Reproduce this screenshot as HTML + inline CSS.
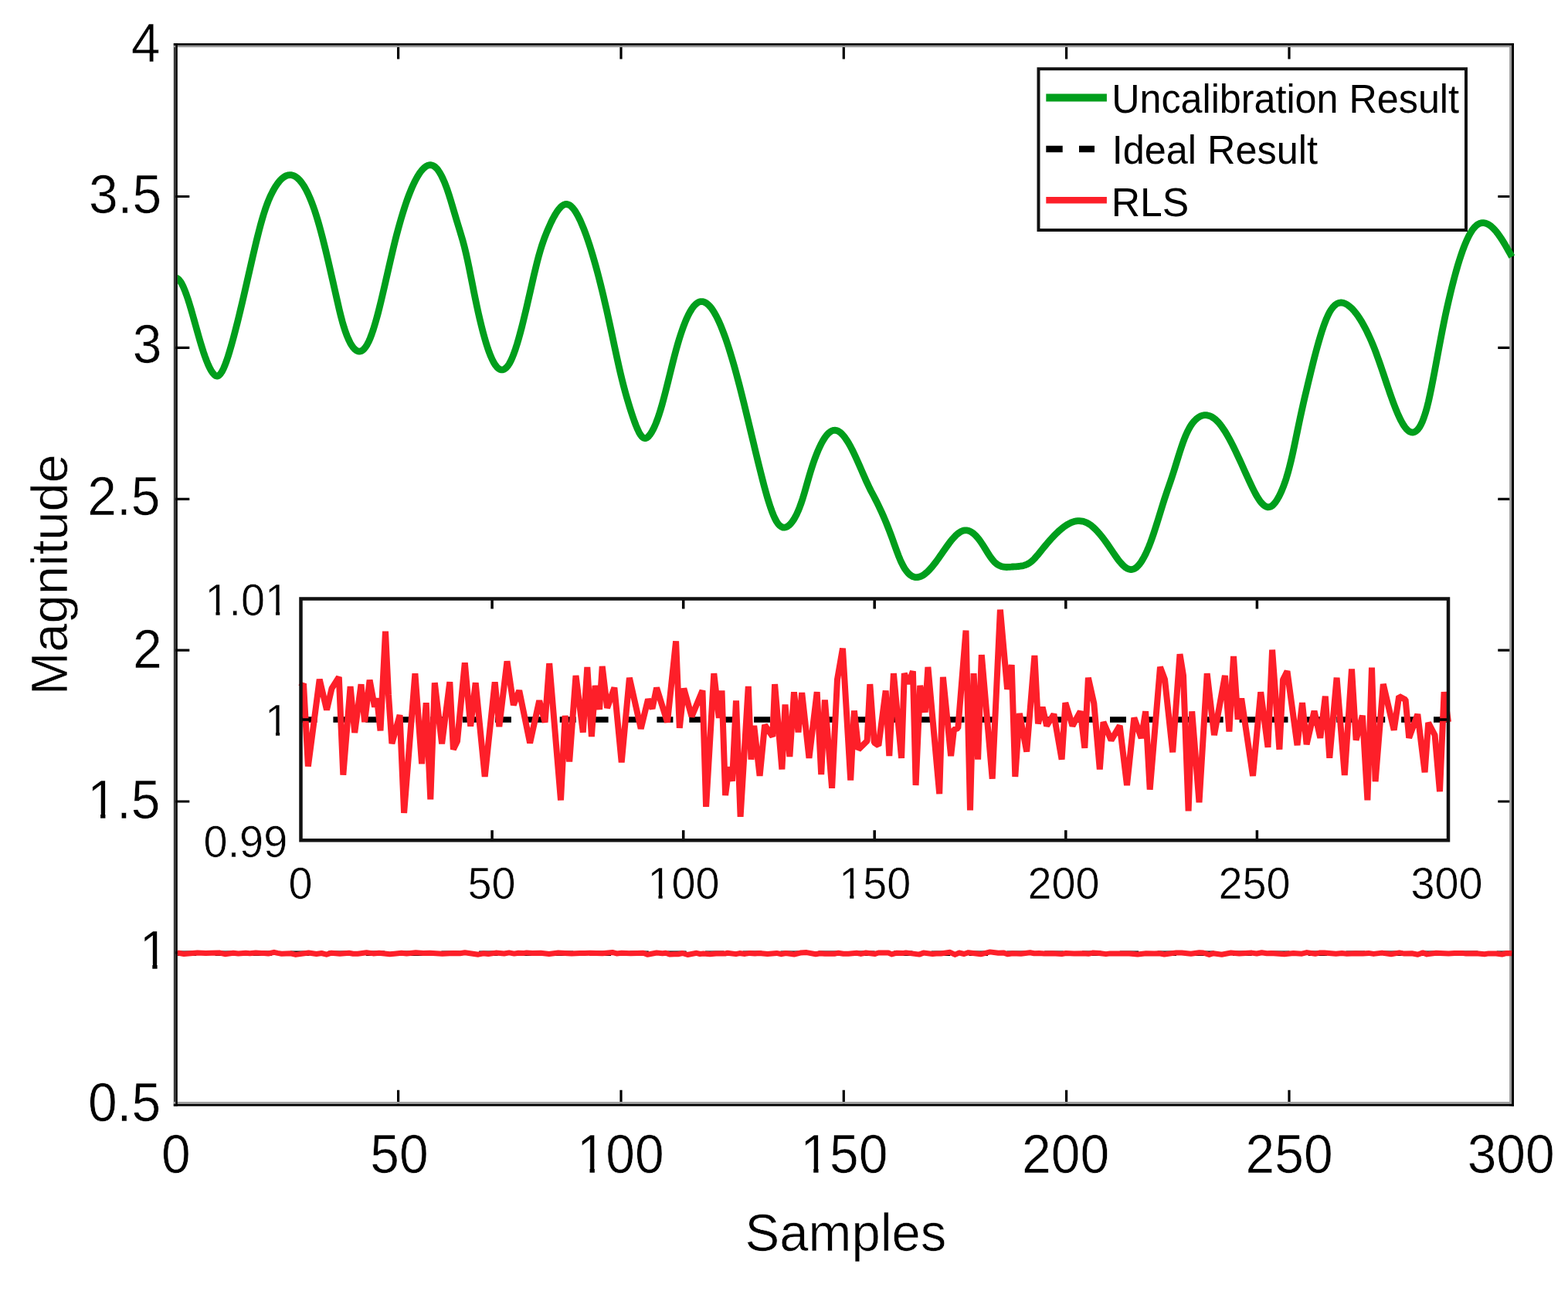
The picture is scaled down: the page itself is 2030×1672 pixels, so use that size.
<!DOCTYPE html>
<html><head><meta charset="utf-8"><title>Magnitude vs Samples</title>
<style>html,body{margin:0;padding:0;background:#fff;width:2030px;height:1672px;overflow:hidden}svg{display:block}</style>
</head><body><svg width="2030" height="1672" viewBox="0 0 2030 1672"><rect x="0" y="0" width="2030" height="1672" fill="#ffffff"/><path d="M515.6 1429.8V1411.8M515.6 58.6V76.6M804.0 1429.8V1411.8M804.0 58.6V76.6M1092.3 1429.8V1411.8M1092.3 58.6V76.6M1380.6 1429.8V1411.8M1380.6 58.6V76.6M1669.0 1429.8V1411.8M1669.0 58.6V76.6M227.3 1233.9H245.3M1957.3 1233.9H1939.3M227.3 1038.0H245.3M1957.3 1038.0H1939.3M227.3 842.1H245.3M1957.3 842.1H1939.3M227.3 646.3H245.3M1957.3 646.3H1939.3M227.3 450.4H245.3M1957.3 450.4H1939.3M227.3 254.5H245.3M1957.3 254.5H1939.3" stroke="#000" stroke-width="3.2" fill="none"/><rect x="224.8" y="56.1" width="2.5" height="1376.5" fill="#383838"/><rect x="224.8" y="58.7" width="1735.2" height="2.5" fill="#9a9a9a"/><rect x="1954.2" y="56.1" width="2.9" height="1376.5" fill="#9a9a9a"/><rect x="224.8" y="1426.9" width="1735.2" height="2.9" fill="#a0a0a0"/><rect x="227.3" y="56.1" width="2.5" height="1376.5" fill="#000"/><rect x="224.8" y="56.1" width="1735.2" height="2.6" fill="#000"/><rect x="1957.1" y="56.1" width="2.9" height="1376.5" fill="#000"/><rect x="224.8" y="1429.8" width="1735.2" height="2.8" fill="#000"/><line x1="229.8" y1="1234.8" x2="1957.3" y2="1234.8" stroke="#000" stroke-width="6.4" stroke-dasharray="24.4 24.4"/><polyline points="229.8,1234.2 231.4,1234.2 238.2,1235.6 255.5,1234.1 266.3,1234.6 273.9,1234.2 284.7,1234.1 291.1,1235.7 302.0,1234.3 308.5,1235.0 318.1,1234.2 323.5,1234.8 331.1,1234.1 338.5,1234.5 342.0,1234.5 347.3,1235.0 354.8,1233.3 359.5,1234.4 364.6,1235.2 376.5,1234.8 382.9,1236.4 399.5,1234.0 409.7,1235.5 416.2,1234.5 422.7,1236.2 429.1,1234.2 440.0,1235.2 451.8,1234.2 457.2,1235.3 463.1,1235.2 474.5,1233.8 483.2,1234.9 490.7,1234.2 504.7,1235.8 519.8,1234.2 526.4,1234.9 538.2,1233.8 547.9,1234.5 556.5,1234.3 572.7,1235.2 586.8,1234.5 595.4,1234.8 601.9,1233.8 619.2,1236.2 625.7,1234.8 632.2,1235.5 641.9,1234.1 652.7,1235.0 659.1,1233.9 665.7,1235.1 671.0,1234.2 677.5,1234.6 681.7,1233.9 689.2,1234.5 700.0,1234.3 710.8,1235.5 722.7,1234.1 740.0,1234.9 750.8,1234.5 757.2,1234.6 763.7,1234.3 779.9,1234.8 792.8,1233.4 798.3,1234.9 804.7,1234.3 816.6,1234.7 832.9,1234.3 838.2,1236.3 850.1,1234.0 857.7,1234.7 862.0,1234.3 867.4,1236.1 872.8,1235.7 877.7,1235.8 883.5,1234.5 890.1,1236.5 901.9,1234.3 906.3,1235.5 910.6,1235.0 919.2,1235.8 926.8,1234.9 938.6,1235.1 941.9,1234.2 952.7,1235.6 957.5,1234.6 964.4,1235.4 970.9,1234.4 977.3,1235.0 982.8,1234.4 993.6,1235.4 1005.5,1234.4 1011.9,1235.7 1017.4,1234.5 1028.1,1236.0 1036.1,1234.1 1044.3,1233.6 1056.1,1235.8 1061.6,1234.7 1068.0,1235.3 1081.1,1235.2 1085.4,1234.2 1091.8,1235.2 1098.3,1235.2 1109.1,1234.3 1114.5,1235.4 1121.0,1234.0 1132.9,1235.4 1137.2,1234.0 1143.6,1234.1 1150.1,1234.0 1154.4,1235.9 1161.0,1234.2 1168.5,1234.6 1172.8,1233.9 1190.1,1236.1 1195.5,1234.1 1207.4,1235.4 1212.0,1235.0 1218.1,1235.0 1230.0,1233.3 1236.4,1236.4 1241.8,1234.0 1248.2,1235.5 1253.7,1233.7 1269.8,1235.8 1281.7,1232.9 1292.4,1234.2 1299.0,1233.9 1304.3,1235.8 1310.8,1234.7 1321.7,1235.3 1333.5,1233.7 1338.9,1234.8 1345.4,1234.6 1351.8,1234.9 1362.7,1234.8 1374.5,1235.5 1380.0,1234.5 1390.7,1234.9 1402.6,1234.7 1409.1,1235.3 1414.5,1234.1 1423.1,1234.5 1431.8,1235.6 1437.2,1234.9 1449.1,1235.1 1462.0,1235.0 1472.8,1235.9 1483.7,1234.8 1494.5,1235.1 1500.9,1234.7 1507.4,1236.0 1522.9,1233.9 1529.9,1234.1 1541.8,1235.3 1552.6,1233.7 1557.8,1234.0 1565.5,1236.4 1570.9,1234.7 1581.7,1236.2 1593.6,1234.0 1604.4,1235.0 1620.6,1234.1 1627.0,1235.0 1633.5,1233.7 1640.1,1234.7 1645.4,1234.5 1662.7,1235.8 1674.5,1234.4 1685.4,1235.2 1691.9,1233.6 1702.7,1235.3 1708.1,1234.1 1714.5,1234.0 1729.6,1235.2 1737.2,1234.5 1743.7,1235.2 1755.2,1234.7 1764.3,1235.1 1771.9,1234.4 1778.3,1235.4 1789.1,1234.1 1801.0,1235.7 1811.7,1233.9 1818.2,1235.1 1827.9,1234.8 1835.5,1236.2 1842.0,1233.9 1847.4,1235.9 1859.2,1234.2 1875.4,1234.9 1883.0,1234.4 1892.8,1234.4 1898.1,1235.1 1911.1,1234.8 1921.9,1235.7 1927.3,1234.9 1937.0,1235.1 1944.5,1236.0 1951.0,1234.4 1957.3,1234.8" fill="none" stroke="#fd1f29" stroke-width="7" stroke-linejoin="round"/><clipPath id="pc"><rect x="229.8" y="40" width="1740" height="1400"/></clipPath><polyline clip-path="url(#pc)" points="227.3,360.1 229.3,360.4 231.3,361.8 233.3,364.2 235.3,367.4 237.3,371.5 239.3,376.2 241.3,381.6 243.3,387.4 245.3,393.8 247.3,400.4 249.3,407.4 251.3,414.5 253.3,421.6 255.3,428.8 257.3,435.9 259.3,442.8 261.3,449.4 263.3,455.7 265.3,461.5 267.3,466.9 269.3,471.8 271.3,476.1 273.3,479.8 275.3,482.9 277.3,485.2 279.3,486.7 281.3,487.1 283.3,486.3 285.3,484.4 287.3,481.4 289.3,477.5 291.3,472.8 293.3,467.4 295.3,461.4 297.3,454.9 299.3,448.0 301.3,440.9 303.3,433.4 305.3,425.7 307.3,417.8 309.3,409.7 311.3,401.4 313.3,392.9 315.3,384.4 317.3,375.7 319.3,367.0 321.3,358.2 323.3,349.5 325.3,340.7 327.3,332.0 329.3,323.5 331.3,315.1 333.3,306.9 335.3,299.0 337.3,291.4 339.3,284.3 341.3,277.5 343.3,271.3 345.3,265.6 347.3,260.4 349.3,255.7 351.3,251.4 353.3,247.5 355.3,243.9 357.3,240.7 359.3,237.8 361.3,235.2 363.3,232.9 365.3,231.0 367.3,229.5 369.3,228.2 371.3,227.4 373.3,226.8 375.3,226.6 377.3,226.7 379.3,227.2 381.3,228.1 383.3,229.3 385.3,230.8 387.3,232.7 389.3,235.0 391.3,237.6 393.3,240.6 395.3,244.0 397.3,247.8 399.3,251.9 401.3,256.5 403.3,261.4 405.3,266.7 407.3,272.4 409.3,278.6 411.3,285.1 413.3,292.0 415.3,299.3 417.3,306.9 419.3,314.8 421.3,322.9 423.3,331.2 425.3,339.8 427.3,348.4 429.3,357.2 431.3,366.0 433.3,374.9 435.3,383.8 437.3,392.6 439.3,401.2 441.3,409.4 443.3,416.9 445.3,423.7 447.3,429.8 449.3,435.1 451.3,439.8 453.3,443.9 455.3,447.3 457.3,450.1 459.3,452.3 461.3,453.9 463.3,454.8 465.3,455.1 467.3,454.7 469.3,453.7 471.3,451.9 473.3,449.5 475.3,446.3 477.3,442.5 479.3,437.9 481.3,432.6 483.3,426.8 485.3,420.3 487.3,413.4 489.3,406.0 491.3,398.2 493.3,390.0 495.3,381.6 497.3,373.0 499.3,364.3 501.3,355.5 503.3,346.7 505.3,338.0 507.3,329.4 509.3,320.9 511.3,312.8 513.3,304.9 515.3,297.4 517.3,290.1 519.3,283.1 521.3,276.4 523.3,270.1 525.3,264.0 527.3,258.3 529.3,252.9 531.3,247.8 533.3,243.0 535.3,238.6 537.3,234.5 539.3,230.7 541.3,227.3 543.3,224.2 545.3,221.5 547.3,219.1 549.3,217.2 551.3,215.6 553.3,214.5 555.3,213.9 557.3,213.7 559.3,214.0 561.3,214.8 563.3,216.2 565.3,218.1 567.3,220.6 569.3,223.6 571.3,227.1 573.3,231.2 575.3,235.7 577.3,240.8 579.3,246.3 581.3,252.4 583.3,258.8 585.3,265.5 587.3,272.3 589.3,279.1 591.3,285.8 593.3,292.2 595.3,298.7 597.3,305.4 599.3,312.3 601.3,319.9 603.3,328.1 605.3,337.1 607.3,346.7 609.3,356.6 611.3,366.7 613.3,376.8 615.3,386.7 617.3,396.2 619.3,405.4 621.3,414.1 623.3,422.3 625.3,430.1 627.3,437.4 629.3,444.2 631.3,450.5 633.3,456.2 635.3,461.3 637.3,465.8 639.3,469.6 641.3,472.8 643.3,475.4 645.3,477.2 647.3,478.4 649.3,478.9 651.3,478.8 653.3,477.9 655.3,476.3 657.3,474.1 659.3,471.1 661.3,467.4 663.3,463.0 665.3,457.9 667.3,452.2 669.3,446.0 671.3,439.2 673.3,432.0 675.3,424.5 677.3,416.5 679.3,408.3 681.3,399.9 683.3,391.3 685.3,382.5 687.3,373.7 689.3,364.9 691.3,356.3 693.3,347.9 695.3,339.8 697.3,332.2 699.3,325.1 701.3,318.5 703.3,312.6 705.3,307.1 707.3,302.0 709.3,297.2 711.3,292.7 713.3,288.3 715.3,284.2 717.3,280.5 719.3,277.0 721.3,273.8 723.3,271.1 725.3,268.8 727.3,266.9 729.3,265.6 731.3,264.7 733.3,264.4 735.3,264.8 737.3,265.6 739.3,267.1 741.3,269.1 743.3,271.5 745.3,274.5 747.3,277.9 749.3,281.7 751.3,285.8 753.3,290.4 755.3,295.2 757.3,300.4 759.3,305.8 761.3,311.6 763.3,317.6 765.3,324.0 767.3,330.6 769.3,337.4 771.3,344.5 773.3,351.9 775.3,359.5 777.3,367.4 779.3,375.5 781.3,383.8 783.3,392.4 785.3,401.1 787.3,410.1 789.3,419.2 791.3,428.5 793.3,437.9 795.3,447.3 797.3,456.6 799.3,465.8 801.3,474.8 803.3,483.5 805.3,491.8 807.3,499.7 809.3,507.2 811.3,514.3 813.3,521.1 815.3,527.6 817.3,533.9 819.3,539.9 821.3,545.6 823.3,550.9 825.3,555.7 827.3,559.9 829.3,563.3 831.3,565.8 833.3,567.3 835.3,567.7 837.3,567.1 839.3,565.5 841.3,563.2 843.3,560.3 845.3,556.7 847.3,552.6 849.3,547.9 851.3,542.6 853.3,536.8 855.3,530.4 857.3,523.5 859.3,516.2 861.3,508.5 863.3,500.6 865.3,492.6 867.3,484.5 869.3,476.4 871.3,468.4 873.3,460.7 875.3,453.2 877.3,446.0 879.3,439.3 881.3,433.0 883.3,427.1 885.3,421.6 887.3,416.5 889.3,411.8 891.3,407.6 893.3,403.9 895.3,400.6 897.3,397.7 899.3,395.4 901.3,393.5 903.3,392.0 905.3,391.1 907.3,390.6 909.3,390.6 911.3,391.1 913.3,391.9 915.3,393.2 917.3,395.0 919.3,397.1 921.3,399.6 923.3,402.5 925.3,405.8 927.3,409.4 929.3,413.4 931.3,417.7 933.3,422.3 935.3,427.3 937.3,432.6 939.3,438.1 941.3,443.9 943.3,450.0 945.3,456.4 947.3,463.0 949.3,469.8 951.3,476.8 953.3,484.1 955.3,491.6 957.3,499.2 959.3,507.0 961.3,515.0 963.3,523.0 965.3,531.2 967.3,539.5 969.3,547.8 971.3,556.1 973.3,564.5 975.3,572.8 977.3,581.2 979.3,589.5 981.3,597.7 983.3,605.8 985.3,613.8 987.3,621.7 989.3,629.3 991.3,636.7 993.3,643.7 995.3,650.3 997.3,656.5 999.3,662.1 1001.3,667.2 1003.3,671.6 1005.3,675.4 1007.3,678.4 1009.3,680.6 1011.3,682.1 1013.3,683.0 1015.3,683.2 1017.3,682.8 1019.3,681.9 1021.3,680.5 1023.3,678.6 1025.3,676.2 1027.3,673.4 1029.3,670.0 1031.3,666.2 1033.3,661.8 1035.3,656.8 1037.3,651.4 1039.3,645.3 1041.3,638.7 1043.3,631.8 1045.3,624.7 1047.3,617.7 1049.3,611.0 1051.3,604.7 1053.3,598.7 1055.3,593.1 1057.3,587.9 1059.3,583.0 1061.3,578.6 1063.3,574.5 1065.3,570.8 1067.3,567.6 1069.3,564.8 1071.3,562.4 1073.3,560.4 1075.3,558.9 1077.3,557.9 1079.3,557.3 1081.3,557.2 1083.3,557.6 1085.3,558.4 1087.3,559.7 1089.3,561.4 1091.3,563.5 1093.3,565.9 1095.3,568.7 1097.3,571.7 1099.3,575.1 1101.3,578.7 1103.3,582.5 1105.3,586.6 1107.3,590.8 1109.3,595.2 1111.3,599.7 1113.3,604.2 1115.3,608.9 1117.3,613.5 1119.3,618.1 1121.3,622.6 1123.3,626.9 1125.3,631.1 1127.3,635.2 1129.3,639.0 1131.3,642.8 1133.3,646.6 1135.3,650.5 1137.3,654.6 1139.3,658.8 1141.3,663.1 1143.3,667.6 1145.3,672.2 1147.3,677.0 1149.3,682.0 1151.3,687.1 1153.3,692.4 1155.3,697.8 1157.3,703.4 1159.3,709.0 1161.3,714.5 1163.3,719.8 1165.3,724.7 1167.3,729.1 1169.3,733.0 1171.3,736.4 1173.3,739.3 1175.3,741.8 1177.3,743.7 1179.3,745.3 1181.3,746.5 1183.3,747.2 1185.3,747.6 1187.3,747.7 1189.3,747.4 1191.3,746.8 1193.3,745.9 1195.3,744.8 1197.3,743.4 1199.3,741.7 1201.3,739.9 1203.3,737.9 1205.3,735.6 1207.3,733.3 1209.3,730.8 1211.3,728.2 1213.3,725.5 1215.3,722.7 1217.3,719.8 1219.3,717.0 1221.3,714.1 1223.3,711.2 1225.3,708.4 1227.3,705.6 1229.3,702.9 1231.3,700.3 1233.3,697.9 1235.3,695.7 1237.3,693.6 1239.3,691.8 1241.3,690.2 1243.3,688.9 1245.3,687.8 1247.3,687.1 1249.3,686.8 1251.3,686.8 1253.3,687.2 1255.3,687.9 1257.3,688.9 1259.3,690.2 1261.3,691.9 1263.3,693.8 1265.3,696.0 1267.3,698.4 1269.3,701.1 1271.3,704.1 1273.3,707.2 1275.3,710.4 1277.3,713.6 1279.3,716.8 1281.3,719.9 1283.3,722.8 1285.3,725.4 1287.3,727.7 1289.3,729.5 1291.3,731.1 1293.3,732.2 1295.3,733.1 1297.3,733.8 1299.3,734.2 1301.3,734.4 1303.3,734.5 1305.3,734.4 1307.3,734.3 1309.3,734.2 1311.3,734.0 1313.3,733.9 1315.3,733.8 1317.3,733.6 1319.3,733.5 1321.3,733.2 1323.3,732.9 1325.3,732.4 1327.3,731.8 1329.3,731.0 1331.3,730.0 1333.3,728.8 1335.3,727.3 1337.3,725.5 1339.3,723.5 1341.3,721.2 1343.3,718.9 1345.3,716.4 1347.3,713.9 1349.3,711.5 1351.3,709.0 1353.3,706.6 1355.3,704.2 1357.3,701.9 1359.3,699.6 1361.3,697.4 1363.3,695.2 1365.3,693.1 1367.3,691.1 1369.3,689.2 1371.3,687.3 1373.3,685.6 1375.3,684.0 1377.3,682.4 1379.3,681.0 1381.3,679.7 1383.3,678.6 1385.3,677.5 1387.3,676.6 1389.3,675.9 1391.3,675.3 1393.3,674.9 1395.3,674.7 1397.3,674.6 1399.3,674.8 1401.3,675.1 1403.3,675.6 1405.3,676.3 1407.3,677.2 1409.3,678.3 1411.3,679.6 1413.3,681.1 1415.3,682.8 1417.3,684.7 1419.3,686.7 1421.3,688.8 1423.3,691.1 1425.3,693.5 1427.3,696.0 1429.3,698.6 1431.3,701.3 1433.3,704.1 1435.3,707.0 1437.3,709.9 1439.3,712.9 1441.3,715.9 1443.3,718.8 1445.3,721.6 1447.3,724.4 1449.3,726.9 1451.3,729.3 1453.3,731.5 1455.3,733.4 1457.3,735.0 1459.3,736.2 1461.3,737.1 1463.3,737.6 1465.3,737.6 1467.3,737.1 1469.3,736.2 1471.3,734.8 1473.3,732.9 1475.3,730.6 1477.3,727.9 1479.3,724.7 1481.3,721.1 1483.3,717.2 1485.3,712.8 1487.3,708.1 1489.3,703.0 1491.3,697.5 1493.3,691.7 1495.3,685.7 1497.3,679.4 1499.3,673.0 1501.3,666.5 1503.3,660.0 1505.3,653.5 1507.3,647.2 1509.3,641.1 1511.3,635.2 1513.3,629.4 1515.3,623.6 1517.3,617.7 1519.3,611.5 1521.3,605.1 1523.3,598.6 1525.3,592.1 1527.3,585.7 1529.3,579.6 1531.3,573.8 1533.3,568.4 1535.3,563.5 1537.3,559.1 1539.3,555.3 1541.3,551.8 1543.3,548.8 1545.3,546.3 1547.3,544.1 1549.3,542.2 1551.3,540.7 1553.3,539.5 1555.3,538.6 1557.3,538.0 1559.3,537.7 1561.3,537.6 1563.3,537.9 1565.3,538.4 1567.3,539.1 1569.3,540.2 1571.3,541.5 1573.3,543.0 1575.3,544.9 1577.3,546.9 1579.3,549.3 1581.3,551.9 1583.3,554.7 1585.3,557.7 1587.3,560.9 1589.3,564.3 1591.3,567.9 1593.3,571.6 1595.3,575.5 1597.3,579.5 1599.3,583.6 1601.3,587.8 1603.3,592.1 1605.3,596.4 1607.3,600.8 1609.3,605.2 1611.3,609.7 1613.3,614.1 1615.3,618.5 1617.3,622.9 1619.3,627.2 1621.3,631.4 1623.3,635.4 1625.3,639.2 1627.3,642.7 1629.3,646.0 1631.3,648.9 1633.3,651.4 1635.3,653.5 1637.3,655.1 1639.3,656.2 1641.3,656.8 1643.3,656.7 1645.3,656.0 1647.3,654.7 1649.3,652.8 1651.3,650.4 1653.3,647.4 1655.3,643.9 1657.3,640.0 1659.3,635.6 1661.3,630.7 1663.3,625.3 1665.3,619.3 1667.3,612.6 1669.3,605.2 1671.3,597.1 1673.3,588.4 1675.3,579.2 1677.3,569.7 1679.3,560.0 1681.3,550.4 1683.3,540.9 1685.3,531.7 1687.3,522.8 1689.3,514.1 1691.3,505.7 1693.3,497.3 1695.3,489.0 1697.3,480.7 1699.3,472.6 1701.3,464.7 1703.3,457.0 1705.3,449.6 1707.3,442.5 1709.3,435.7 1711.3,429.3 1713.3,423.3 1715.3,417.8 1717.3,412.7 1719.3,408.2 1721.3,404.3 1723.3,401.0 1725.3,398.3 1727.3,396.1 1729.3,394.4 1731.3,393.1 1733.3,392.4 1735.3,392.0 1737.3,392.0 1739.3,392.4 1741.3,393.1 1743.3,394.1 1745.3,395.4 1747.3,396.9 1749.3,398.7 1751.3,400.7 1753.3,402.9 1755.3,405.4 1757.3,408.1 1759.3,411.0 1761.3,414.1 1763.3,417.4 1765.3,421.0 1767.3,424.7 1769.3,428.6 1771.3,432.7 1773.3,437.0 1775.3,441.5 1777.3,446.2 1779.3,451.2 1781.3,456.4 1783.3,461.9 1785.3,467.5 1787.3,473.3 1789.3,479.1 1791.3,485.0 1793.3,491.0 1795.3,497.0 1797.3,502.9 1799.3,508.7 1801.3,514.4 1803.3,519.9 1805.3,525.2 1807.3,530.3 1809.3,535.2 1811.3,539.6 1813.3,543.8 1815.3,547.5 1817.3,550.9 1819.3,553.7 1821.3,556.1 1823.3,557.9 1825.3,559.2 1827.3,559.9 1829.3,560.0 1831.3,559.5 1833.3,558.3 1835.3,556.5 1837.3,553.9 1839.3,550.5 1841.3,546.3 1843.3,541.2 1845.3,535.2 1847.3,528.2 1849.3,520.2 1851.3,511.2 1853.3,501.6 1855.3,491.4 1857.3,481.0 1859.3,470.3 1861.3,459.5 1863.3,448.8 1865.3,438.2 1867.3,427.8 1869.3,417.8 1871.3,408.2 1873.3,399.0 1875.3,390.2 1877.3,381.7 1879.3,373.5 1881.3,365.6 1883.3,358.0 1885.3,350.8 1887.3,343.8 1889.3,337.3 1891.3,331.1 1893.3,325.3 1895.3,319.9 1897.3,314.9 1899.3,310.3 1901.3,306.1 1903.3,302.4 1905.3,299.1 1907.3,296.3 1909.3,294.0 1911.3,292.1 1913.3,290.6 1915.3,289.5 1917.3,288.9 1919.3,288.6 1921.3,288.7 1923.3,289.1 1925.3,289.8 1927.3,290.9 1929.3,292.2 1931.3,293.9 1933.3,295.8 1935.3,297.9 1937.3,300.2 1939.3,302.8 1941.3,305.6 1943.3,308.5 1945.3,311.6 1947.3,314.9 1949.3,318.2 1951.3,321.7 1953.3,325.3 1955.3,328.9 1957.3,332.6" fill="none" stroke="#009e1c" stroke-width="8.8" stroke-linejoin="round"/><rect x="389.5" y="775.5" width="1485.5" height="312.79999999999995" fill="#fff"/><line x1="389.5" y1="931.9" x2="1875.0" y2="931.9" stroke="#000" stroke-width="7.5" stroke-dasharray="21 20.9"/><polyline points="389.5,889.8 393.0,885.5 398.9,992.6 413.7,879.8 423.0,919.4 429.5,891.6 438.8,877.0 444.3,1003.7 453.6,889.0 459.2,949.0 467.5,886.3 472.1,935.1 478.6,880.7 485.0,915.5 488.0,904.5 492.5,946.3 499.0,817.7 503.0,900.0 507.4,963.0 517.6,926.1 523.1,1052.9 537.4,872.3 546.1,989.2 551.7,910.2 557.3,1035.4 562.8,884.3 572.1,963.2 582.3,883.3 586.9,970.6 592.0,960.0 601.8,858.3 609.2,940.6 615.7,884.3 627.7,1005.9 640.7,883.3 646.3,941.0 656.5,856.4 664.8,913.1 672.2,894.4 686.1,962.3 698.2,907.4 705.6,935.4 711.2,859.2 726.0,1036.4 731.6,926.9 737.2,986.4 745.5,875.0 754.8,948.4 760.3,863.9 765.9,953.9 770.5,888.0 776.1,918.7 779.7,862.9 786.1,916.8 795.4,890.7 804.7,987.3 814.9,877.8 829.7,943.7 839.0,905.6 844.5,917.8 850.1,890.7 864.0,935.4 875.1,830.4 879.8,942.8 885.3,891.7 895.5,928.0 909.5,894.4 914.1,1044.8 924.3,872.2 930.8,929.8 934.5,894.4 939.1,1030.0 943.8,993.3 948.0,1011.5 953.0,907.4 958.6,1057.8 968.8,888.9 972.5,983.6 976.2,939.9 983.6,1004.9 990.1,939.0 1000.3,953.9 1003.1,886.1 1012.4,996.4 1016.5,912.5 1022.4,979.9 1028.0,896.3 1033.5,948.4 1038.2,897.2 1047.5,981.8 1057.7,896.3 1063.2,1003.1 1067.9,906.5 1077.1,1020.7 1084.0,880.0 1091.0,839.8 1101.2,1010.6 1105.9,920.4 1111.4,970.6 1122.6,959.7 1126.3,886.1 1131.8,961.6 1137.4,965.5 1146.7,894.4 1151.3,979.0 1156.9,872.2 1167.1,981.8 1170.8,872.2 1176.3,885.3 1181.9,869.4 1185.6,1017.0 1191.2,888.0 1197.7,922.4 1201.4,863.9 1216.2,1028.1 1220.9,876.8 1231.1,979.0 1235.0,945.0 1240.3,943.0 1250.5,816.6 1256.0,1049.5 1260.6,872.2 1266.1,983.6 1270.8,848.1 1284.7,1008.6 1294.9,789.7 1304.1,892.7 1309.7,861.1 1314.3,1005.9 1319.9,924.1 1329.2,973.4 1339.4,849.0 1344.0,937.2 1349.6,915.8 1355.1,940.0 1364.4,925.0 1374.6,983.6 1379.3,910.2 1388.5,940.0 1398.7,921.3 1404.3,968.8 1408.9,877.8 1416.3,910.9 1423.8,996.4 1428.4,935.2 1438.6,958.6 1449.7,939.9 1459.0,1017.0 1468.3,929.7 1477.6,955.8 1483.1,921.3 1488.7,1022.6 1502.0,863.9 1508.0,880.0 1518.2,974.3 1527.5,847.2 1532.0,875.0 1538.6,1050.4 1543.2,921.3 1552.5,1039.3 1562.7,872.2 1572.0,952.1 1585.9,875.0 1591.4,947.5 1597.0,849.9 1602.6,931.7 1607.2,904.7 1622.0,1004.9 1632.2,896.3 1641.5,967.8 1647.1,841.6 1656.4,970.6 1661.0,880.3 1666.5,869.4 1679.5,965.1 1686.0,910.2 1691.6,964.1 1701.5,921.0 1709.3,955.7 1715.8,901.8 1721.3,981.6 1730.6,877.7 1740.8,1003.9 1750.0,866.6 1755.6,958.5 1763.9,926.8 1770.4,1036.3 1776.0,864.7 1780.6,1012.2 1790.8,886.0 1804.7,945.5 1811.2,901.8 1819.6,906.2 1824.2,955.7 1835.3,925.0 1844.6,1000.2 1849.2,936.1 1857.6,952.0 1864.0,1025.2 1869.6,896.2 1875.0,935.0" fill="none" stroke="#fd1f29" stroke-width="8" stroke-linejoin="bevel"/><path d="M637.1 1088.3V1075.3M637.1 775.5V788.5M884.7 1088.3V1075.3M884.7 775.5V788.5M1132.2 1088.3V1075.3M1132.2 775.5V788.5M1379.8 1088.3V1075.3M1379.8 775.5V788.5M1627.4 1088.3V1075.3M1627.4 775.5V788.5M389.5 931.9H402.5M1875.0 931.9H1862.0" stroke="#000" stroke-width="3.5" fill="none"/><rect x="389.5" y="775.5" width="1485.5" height="312.79999999999995" fill="none" stroke="#111" stroke-width="4.5"/><rect x="1344.5" y="89.2" width="553.5" height="208.8" fill="#fff" stroke="#111" stroke-width="4"/><line x1="1354.3" y1="126.6" x2="1432.9" y2="126.6" stroke="#009e1c" stroke-width="10"/><line x1="1354.3" y1="192.9" x2="1417" y2="192.9" stroke="#000" stroke-width="8.5" stroke-dasharray="21.4 21.3"/><line x1="1354.3" y1="259.3" x2="1432.9" y2="259.3" stroke="#fd1f29" stroke-width="8.5"/><g font-family="'Liberation Sans', Arial, Helvetica, sans-serif" fill="#000" stroke="#fff" stroke-width="0.6"><g transform="translate(169.72 80.30) scale(0.9750 1)"><text font-size="69.50">4</text></g><g transform="translate(114.92 276.00) scale(0.9750 1)"><text font-size="69.50">3.5</text></g><g transform="translate(171.84 470.41) scale(0.9750 1)"><text font-size="69.50">3</text></g><g transform="translate(113.22 666.70) scale(0.9750 1)"><text font-size="69.50">2.5</text></g><g transform="translate(171.88 865.30) scale(0.9750 1)"><text font-size="69.50">2</text></g><g transform="translate(113.22 1059.71) scale(0.9750 1)"><text font-size="69.50">1.5</text><rect x="4.17" y="-6.95" width="13.14" height="8.34" fill="#fff" stroke="none"/><rect x="23.77" y="-6.95" width="13.07" height="8.34" fill="#fff" stroke="none"/></g><g transform="translate(180.43 1255.00) scale(0.9750 1)"><text font-size="69.50">1</text><rect x="4.17" y="-6.95" width="13.14" height="8.34" fill="#fff" stroke="none"/><rect x="23.77" y="-6.95" width="13.07" height="8.34" fill="#fff" stroke="none"/></g><g transform="translate(113.92 1451.81) scale(0.9750 1)"><text font-size="69.50">0.5</text></g><g transform="translate(209.00 1518.51) scale(0.9750 1)"><text font-size="69.50">0</text></g><g transform="translate(479.26 1518.51) scale(0.9750 1)"><text font-size="69.50">50</text></g><g transform="translate(746.65 1518.51) scale(0.9750 1)"><text font-size="69.50">100</text><rect x="4.17" y="-6.95" width="13.14" height="8.34" fill="#fff" stroke="none"/><rect x="23.77" y="-6.95" width="13.07" height="8.34" fill="#fff" stroke="none"/></g><g transform="translate(1036.35 1518.51) scale(0.9750 1)"><text font-size="69.50">150</text><rect x="4.17" y="-6.95" width="13.14" height="8.34" fill="#fff" stroke="none"/><rect x="23.77" y="-6.95" width="13.07" height="8.34" fill="#fff" stroke="none"/></g><g transform="translate(1323.05 1518.51) scale(0.9750 1)"><text font-size="69.50">200</text></g><g transform="translate(1612.55 1518.51) scale(0.9750 1)"><text font-size="69.50">250</text></g><g transform="translate(1899.65 1518.51) scale(0.9750 1)"><text font-size="69.50">300</text></g><g transform="translate(265.55 797.02) scale(0.9650 1)"><text font-size="57.80">1.01</text><rect x="3.47" y="-5.78" width="10.92" height="6.94" fill="#fff" stroke="none"/><rect x="19.77" y="-5.78" width="10.87" height="6.94" fill="#fff" stroke="none"/><rect x="83.81" y="-5.78" width="10.92" height="6.94" fill="#fff" stroke="none"/><rect x="100.11" y="-5.78" width="10.87" height="6.94" fill="#fff" stroke="none"/></g><g transform="translate(343.08 953.20) scale(0.9650 1)"><text font-size="57.80">1</text><rect x="3.47" y="-5.78" width="10.92" height="6.94" fill="#fff" stroke="none"/><rect x="19.77" y="-5.78" width="10.87" height="6.94" fill="#fff" stroke="none"/></g><g transform="translate(263.62 1109.52) scale(0.9650 1)"><text font-size="57.80">0.99</text></g><g transform="translate(373.47 1163.62) scale(0.9650 1)"><text font-size="57.80">0</text></g><g transform="translate(605.44 1163.62) scale(0.9650 1)"><text font-size="57.80">50</text></g><g transform="translate(838.58 1163.62) scale(0.9650 1)"><text font-size="57.80">100</text><rect x="3.47" y="-5.78" width="10.92" height="6.94" fill="#fff" stroke="none"/><rect x="19.77" y="-5.78" width="10.87" height="6.94" fill="#fff" stroke="none"/></g><g transform="translate(1086.28 1163.62) scale(0.9650 1)"><text font-size="57.80">150</text><rect x="3.47" y="-5.78" width="10.92" height="6.94" fill="#fff" stroke="none"/><rect x="19.77" y="-5.78" width="10.87" height="6.94" fill="#fff" stroke="none"/></g><g transform="translate(1330.38 1163.62) scale(0.9650 1)"><text font-size="57.80">200</text></g><g transform="translate(1577.48 1163.62) scale(0.9650 1)"><text font-size="57.80">250</text></g><g transform="translate(1826.48 1163.62) scale(0.9650 1)"><text font-size="57.80">300</text></g><text transform="translate(964.58 1619.55) scale(0.9809 1)" font-size="68.34">Samples</text><text transform="translate(87.37 900.35) rotate(-90) scale(1.0080 1)" font-size="66.31">Magnitude</text></g><g font-family="'Liberation Sans', Arial, Helvetica, sans-serif" fill="#000"><text transform="translate(1439.13 146.40) scale(0.9820 1)" font-size="51.20">Uncalibration Result</text><text transform="translate(1439.76 212.20) scale(0.9847 1)" font-size="51.20">Ideal Result</text><text transform="translate(1438.76 280.00) scale(1.0098 1)" font-size="51.20">RLS</text></g></svg></body></html>
